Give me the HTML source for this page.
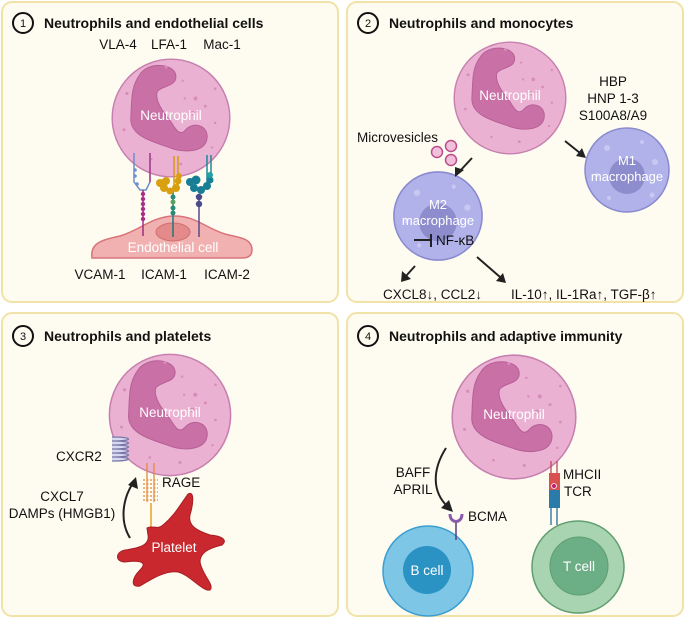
<!DOCTYPE html>
<html><head><meta charset="utf-8"><style>
html,body{margin:0;padding:0;background:#fff;}
svg{display:block;font-family:"Liberation Sans",sans-serif;}
</style></head><body>
<svg width="685" height="619" viewBox="0 0 685 619" xmlns="http://www.w3.org/2000/svg">
<defs>
<g id="neu">
<circle cx="0" cy="0" r="60" fill="#ebb1d2" stroke="#c67fae" stroke-width="1.5"/>
<path d="M-32,-44 C-24,-58 4,-56 5,-43 C6,-32 -10,-33 -14,-27 C-17,-18 -8,-6 0,4 C5,12 9,19 15,12 C24,2 41,9 36,24 C31,36 10,35 -2,30 C-20,24 -42,18 -41,0 C-40,-18 -41,-32 -32,-44 Z" fill="#c970a7" stroke="#b65f96" stroke-width="1"/>
<g fill="#d78dbc"><circle cx="-45" cy="-25" r="1.6"/><circle cx="12" cy="-38" r="1.2"/><circle cx="25" cy="-20" r="2"/><circle cx="35" cy="-12" r="1.5"/><circle cx="14" cy="-20" r="1.2"/><circle cx="22" cy="-5" r="2.2"/><circle cx="45" cy="5" r="1.3"/><circle cx="-48" cy="12" r="1.5"/><circle cx="-20" cy="42" r="1.3"/><circle cx="10" cy="47" r="1.5"/><circle cx="42" cy="30" r="1.2"/><circle cx="-5" cy="-52" r="1.5"/><circle cx="45" cy="-30" r="1.3"/></g>
</g>
<g id="mac">
<circle cx="0" cy="0" r="42" fill="#b2b2ea" stroke="#8a8acf" stroke-width="1.5"/>
<circle cx="0" cy="6" r="18" fill="#8d8dcd"/>
<g fill="#c8c8f2"><circle cx="-20" cy="-22" r="3"/><circle cx="15" cy="-28" r="2"/><circle cx="28" cy="-8" r="3"/><circle cx="-30" cy="5" r="2"/><circle cx="25" cy="25" r="2.5"/><circle cx="-18" cy="28" r="2"/></g>
</g>
</defs>
<g fill="#fefcf1" stroke="#f1e2a8" stroke-width="2">
<rect x="2" y="2" width="336" height="300" rx="10"/>
<rect x="347" y="2" width="336" height="300" rx="10"/>
<rect x="2" y="313" width="336" height="303" rx="10"/>
<rect x="347" y="313" width="336" height="303" rx="10"/>
</g>
<g fill="none" stroke="#111" stroke-width="2">
<circle cx="23" cy="23" r="10"/><circle cx="368" cy="23" r="10"/><circle cx="23" cy="336" r="10"/><circle cx="368" cy="336" r="10"/>
</g>
<g font-size="11" text-anchor="middle" fill="#111">
<text x="23" y="27">1</text><text x="368" y="27">2</text><text x="23" y="340">3</text><text x="368" y="340">4</text>
</g>
<g font-size="14" font-weight="bold" fill="#111">
<text x="44" y="28">Neutrophils and endothelial cells</text>
<text x="389" y="28">Neutrophils and monocytes</text>
<text x="44" y="341">Neutrophils and platelets</text>
<text x="389" y="341">Neutrophils and adaptive immunity</text>
</g>
<!-- Panel 1 -->
<g font-size="13.5" fill="#111" text-anchor="middle">
<text x="118" y="49">VLA-4</text><text x="169" y="49">LFA-1</text><text x="222" y="49">Mac-1</text>
<text x="100" y="279">VCAM-1</text><text x="164" y="279">ICAM-1</text><text x="227" y="279">ICAM-2</text>
</g>
<use href="#neu" transform="translate(171,118) scale(0.98)"/>
<text x="171" y="120" font-size="13.5" fill="#fff" text-anchor="middle">Neutrophil</text>
<path d="M92,258 C90,244 100,240 120,236 C140,230 150,218 172,216 C195,215 205,228 225,234 C240,238 252,238 252,250 C252,256 248,258 242,258 Z" fill="#f1b1b1" stroke="#d8747a" stroke-width="1.5"/>
<ellipse cx="173" cy="232" rx="17" ry="9" fill="#e48a8a" stroke="#d07070"/>
<text x="173" y="252" font-size="13.5" fill="#fff" text-anchor="middle">Endothelial cell</text>
<g stroke-width="1.5" fill="none">
<path d="M134,153 L134,182 L140,190 L146,190 L150,182 L150,153" stroke="#6c8fc8"/>
<path d="M150,153 L150,182" stroke="#b03a8a"/>
<path d="M143,190 L143,236" stroke="#a02e82"/>
<path d="M174,156 L174,185 M178,156 L178,185" stroke="#d89a10"/>
<path d="M173,190 L173,237" stroke="#1a7a7a"/>
<path d="M207,155 L207,182 M211,155 L211,182" stroke="#1a8a9a"/>
<path d="M199,195 L199,237" stroke="#5a4a8a"/>
</g>
<g fill="#a83088"><circle cx="143" cy="194" r="2.2"/><circle cx="143" cy="199" r="2.2"/><circle cx="143" cy="204" r="2.2"/><circle cx="143" cy="209" r="2.2"/><circle cx="143" cy="214" r="2.2"/><circle cx="143" cy="219" r="2.2"/></g>
<g fill="#7090d0"><circle cx="135" cy="170" r="1.8"/><circle cx="135" cy="176" r="1.8"/><circle cx="137" cy="184" r="1.8"/></g>
<g fill="#d8a010"><circle cx="160" cy="183" r="4"/><circle cx="166" cy="181" r="4"/><circle cx="164" cy="188" r="4"/><circle cx="170" cy="191" r="3.5"/><circle cx="176" cy="188" r="4"/><circle cx="178" cy="181" r="3.5"/><circle cx="179" cy="176" r="3"/></g>
<g fill="#2a8a7a"><circle cx="173" cy="197" r="2.5"/><circle cx="173" cy="202" r="2.5" fill="#5aa060"/><circle cx="173" cy="208" r="2.5"/><circle cx="173" cy="213" r="2.5"/></g>
<g fill="#177e96"><circle cx="190" cy="182" r="4"/><circle cx="196" cy="180" r="4.5"/><circle cx="194" cy="188" r="4"/><circle cx="201" cy="190" r="4"/><circle cx="207" cy="186" r="4"/><circle cx="210" cy="180" r="3.5"/><circle cx="210" cy="175" r="3" fill="#23a0a0"/></g>
<g fill="#4a4a88"><circle cx="199" cy="197" r="3.2"/><circle cx="199" cy="204" r="3.2"/></g>
<!-- Panel 2 -->
<use href="#neu" transform="translate(510,98) scale(0.93)"/>
<text x="510" y="100" font-size="13.5" fill="#fff" text-anchor="middle">Neutrophil</text>
<use href="#mac" transform="translate(627,170)"/>
<text x="627" y="165" font-size="13" fill="#fff" text-anchor="middle">M1</text>
<text x="627" y="181" font-size="13" fill="#fff" text-anchor="middle">macrophage</text>
<use href="#mac" transform="translate(438,216) scale(1.05)"/>
<text x="438" y="209" font-size="13" fill="#fff" text-anchor="middle">M2</text>
<text x="438" y="225" font-size="13" fill="#fff" text-anchor="middle">macrophage</text>
<g font-size="13.5" fill="#111" text-anchor="middle">
<text x="613" y="86">HBP</text><text x="613" y="103">HNP 1-3</text><text x="613" y="120">S100A8/A9</text>
</g>
<text x="357" y="142" font-size="13.5" fill="#111">Microvesicles</text>
<g fill="#f3c0dc" stroke="#b84f8c" stroke-width="1.5"><circle cx="437" cy="152" r="5.5"/><circle cx="451" cy="146" r="5.5"/><circle cx="451" cy="160" r="5.5"/></g>
<g stroke="#222" stroke-width="2" fill="none">
<line x1="472" y1="158" x2="459" y2="172"/>
<line x1="565" y1="141" x2="580" y2="153"/>
<line x1="415" y1="266" x2="406" y2="276"/>
<line x1="477" y1="257" x2="500" y2="277"/>
<line x1="414" y1="240" x2="431" y2="240"/><line x1="431" y1="234" x2="431" y2="247"/>
</g>
<g fill="#222">
<polygon points="455,177 455,167 464,170"/>
<polygon points="586,158 576,156 582,148"/>
<polygon points="401,282 402,271 411,279"/>
<polygon points="506,283 496,281 503,273"/>
</g>
<text x="436" y="245" font-size="13.5" fill="#111">NF-κB</text>
<text x="383" y="299" font-size="13.5" fill="#111">CXCL8↓, CCL2↓</text>
<text x="511" y="299" font-size="13.5" fill="#111">IL-10↑, IL-1Ra↑, TGF-β↑</text>
<!-- Panel 3 -->
<use href="#neu" transform="translate(170,415) scale(1.01)"/>
<text x="170" y="417" font-size="13.5" fill="#fff" text-anchor="middle">Neutrophil</text>
<path d="M112,437 C134,437 134,441 112,441 C134,441 134,445 112,445 C134,445 134,449 112,449 C134,449 134,453 112,453 C134,453 134,457 112,457 C134,457 134,461 112,461" fill="#d8d8f0" stroke="#7878a8" stroke-width="1.3"/>
<text x="56" y="461" font-size="13.5" fill="#111">CXCR2</text>
<g stroke="#e08a40" stroke-width="1.3"><line x1="147" y1="463" x2="147" y2="502"/><line x1="154" y1="463" x2="154" y2="502"/>
<path d="M143,480 h15 M143,484 h15 M143,488 h15 M143,492 h15 M143,496 h15 M143,500 h15" stroke-dasharray="2 1.5"/></g>
<line x1="151" y1="503" x2="151" y2="550" stroke="#e8a020" stroke-width="1.5"/>
<text x="162" y="487" font-size="13.5" fill="#111">RAGE</text>
<path d="M147,528 C152,525 158,530 163,525 C175,515 180,505 188,494 C195,490 193,505 190,515 C188,525 195,530 210,535 C222,536 228,540 222,545 C210,548 200,552 200,562 C202,575 215,585 210,590 C203,592 190,575 178,572 C165,570 150,580 140,586 C130,588 132,578 140,570 C148,562 140,560 125,562 C115,562 115,552 125,550 C140,548 150,545 148,535 Z" fill="#c8282e" stroke="#a81e24" stroke-width="1"/>
<text x="174" y="552" font-size="13.5" fill="#fff" text-anchor="middle">Platelet</text>
<path d="M130,538 C120,522 122,500 133,483" fill="none" stroke="#222" stroke-width="2"/>
<polygon points="136,477 138,489 128,485" fill="#222"/>
<g font-size="13.5" fill="#111" text-anchor="middle"><text x="62" y="501">CXCL7</text><text x="62" y="518">DAMPs (HMGB1)</text></g>
<!-- Panel 4 -->
<use href="#neu" transform="translate(514,417) scale(1.03)"/>
<text x="514" y="419" font-size="13.5" fill="#fff" text-anchor="middle">Neutrophil</text>
<circle cx="428" cy="571" r="45" fill="#7ec6e6" stroke="#3c9ed0" stroke-width="1.5"/>
<circle cx="427" cy="570" r="24" fill="#2a93c3"/>
<text x="427" y="575" font-size="13.5" fill="#fff" text-anchor="middle">B cell</text>
<circle cx="578" cy="567" r="46" fill="#a9d4b2" stroke="#5f9e6e" stroke-width="1.5"/>
<circle cx="579" cy="566" r="29" fill="#6caf86" stroke="#5f9e6e"/>
<text x="579" y="571" font-size="13.5" fill="#fff" text-anchor="middle">T cell</text>
<line x1="456" y1="520" x2="456" y2="540" stroke="#5a3a7a" stroke-width="1.5"/>
<path d="M450,514 C450,524 462,524 462,514" fill="none" stroke="#8a5aaa" stroke-width="3"/>
<text x="468" y="521" font-size="13.5" fill="#111">BCMA</text>
<path d="M446,448 C432,470 432,492 448,507" fill="none" stroke="#222" stroke-width="2"/>
<polygon points="453,512 441,508 449,500" fill="#222"/>
<g font-size="13.5" fill="#111" text-anchor="middle"><text x="413" y="477">BAFF</text><text x="413" y="494">APRIL</text></g>
<g stroke-width="1.3"><line x1="551" y1="461" x2="551" y2="475" stroke="#b84a5a"/><line x1="557" y1="461" x2="557" y2="475" stroke="#b84a5a"/>
<line x1="551" y1="508" x2="551" y2="525" stroke="#2a6a9a"/><line x1="557" y1="508" x2="557" y2="525" stroke="#2a6a9a"/></g>
<rect x="549" y="473" width="11" height="17" fill="#d85050"/>
<rect x="549" y="490" width="11" height="18" fill="#2a7aaa"/>
<circle cx="554" cy="486" r="2.5" fill="#c02070" stroke="#fff" stroke-width="0.8"/>
<g font-size="13.5" fill="#111"><text x="563" y="479">MHCII</text><text x="564" y="496">TCR</text></g>
</svg>
</body></html>
